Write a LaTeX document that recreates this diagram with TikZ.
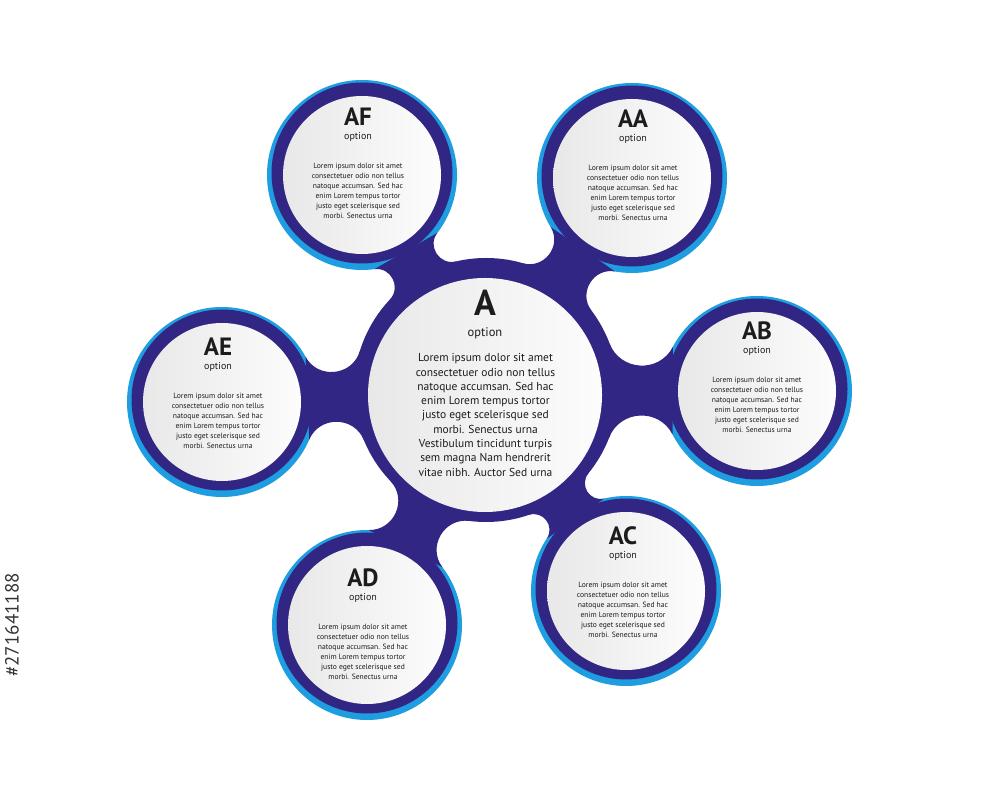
\documentclass[tikz,border=0pt]{standalone}
\usepackage{fontspec}
\setmainfont{PT Sans}
\usetikzlibrary{calc}

\definecolor{navy}{RGB}{50,38,132}
\definecolor{ring}{RGB}{30,158,224}
\definecolor{ink}{RGB}{28,28,28}

\newcommand{\lorem}{Lorem ipsum dolor sit amet\\consectetuer odio non tellus\\natoque accumsan. Sed hac\\enim Lorem tempus tortor\\justo eget scelerisque sed\\morbi. Senectus urna}

\begin{document}
\begin{tikzpicture}[x=1pt, y=1pt,
    title/.style={font=\fontsize{25}{25}\selectfont\bfseries, text=ink, inner sep=0},
    opt/.style={font=\fontsize{10}{10}\selectfont, text=ink, inner sep=0},
    body/.style={font=\fontsize{7.6}{9.9}\selectfont, text=ink, align=center, inner sep=0},
    disc/.style={left color=black!9, right color=black!1}]

        \useasboundingbox (0,0) rectangle (1000,800);
        \fill[white] (0,0) rectangle (1000,800);

        \coordinate (a) at (486,410);

        % outer blue rings
        \foreach \n/\x/\y in {af/362/625, aa/632/622, ab/757/409, ac/626/209, ad/367/175, ae/222/398} {
          \coordinate (\n) at (\x,\y);
          \fill[ring] (\n) circle (95);
        }

        % necks to the centre: name / angle at centre / angle at circle / handle
        \foreach \n/\p/\q/\k in {af/16.8/22.5/16.9pt, aa/18.4/24.3/22.1pt, ab/21.0/27.4/30.0pt,
                                  ac/16.1/21.6/15.1pt, ad/19.6/25.8/25.6pt, ae/19.7/25.9/26.1pt} {
          \coordinate (p1) at ($(a)!132pt!\p:(\n)$);
          \coordinate (p2) at ($(a)!132pt!-\p:(\n)$);
          \coordinate (q1) at ($(\n)!95pt!-\q:(a)$);
          \coordinate (q2) at ($(\n)!95pt!\q:(a)$);
          \fill[navy] (p1) .. controls ($(p1)!\k!90:(a)$) and ($(q1)!\k!-90:(\n)$) .. (q1)
            -- (q2) .. controls ($(q2)!\k!90:(\n)$) and ($(p2)!\k!-90:(a)$) .. (p2) -- cycle;
        }

        \fill[navy] (a) circle (132);
        \shade[disc] (485,405) circle (117);

        \foreach \n in {af,aa,ab,ac,ad,ae} {
          \fill[navy] ($(\n)+(0,2)$) circle (90.5);
          \shade[disc] (\n) circle (79);
        }

        % texts: name / shift x / shift y / label
        \foreach \n/\dx/\s/\t in {af/-4/16/AF, aa/1/15/AA, ab/0/14/AB, ac/-3/19/AC, ad/-4/27/AD, ae/-4/19/AE} {
          \node[body] (\n-text) at ($(\n)+(\dx,-\s)$) {\lorem};
          \node[opt] (\n-opt) at ($(\n)+(\dx,54-\s)$) {option};
          \node[title] (\n-title) at ($(\n)+(\dx,74-\s)$) {\t};
        }

        \node[title, font=\fontsize{36}{36}\selectfont\bfseries] (a-title) at (485,497) {A};
        \node[opt, font=\fontsize{12.5}{12.5}\selectfont] (a-opt) at (485,467) {option};
        \node[body, font=\fontsize{11.5}{14.3}\selectfont] (a-text) at (485.5,385)
          {\lorem\\Vestibulum tincidunt turpis\\sem magna Nam hendrerit\\vitae nibh. Auctor Sed urna};

        \node[rotate=90, font=\fontsize{19}{19}\selectfont, text=black!80, inner sep=0] (stockid) at (12,175) {\#271641188};
        \end{tikzpicture}
\end{document}
